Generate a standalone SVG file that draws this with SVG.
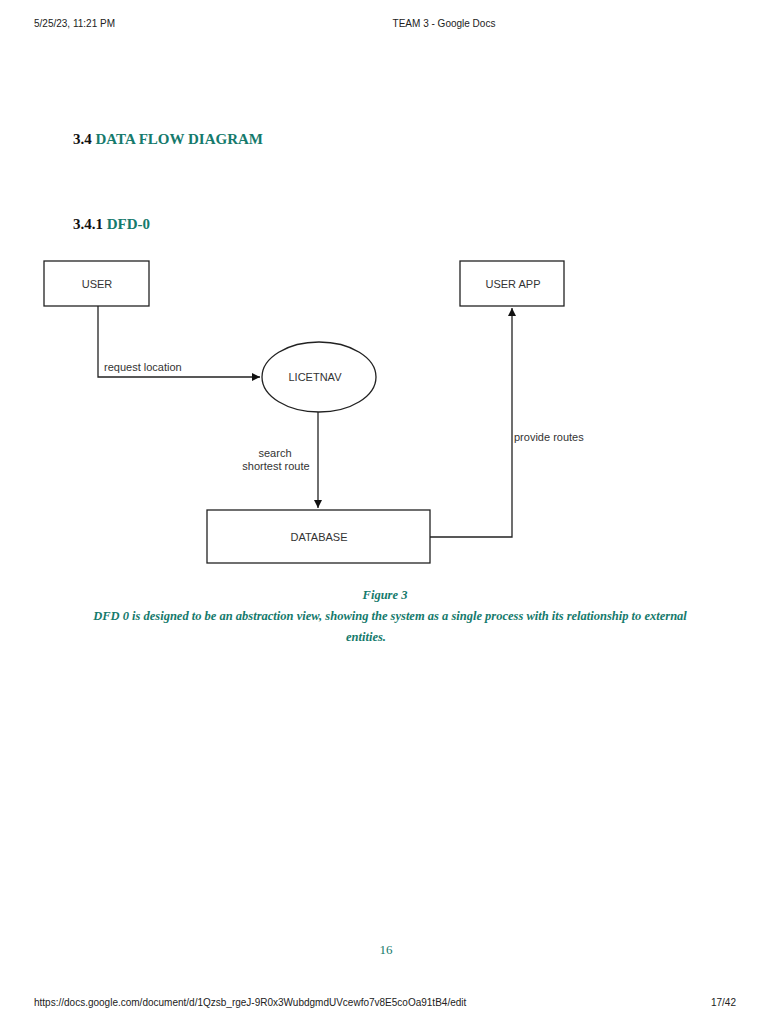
<svg xmlns="http://www.w3.org/2000/svg" width="768" height="1024" viewBox="0 0 768 1024">
<style>
.hdr{font-family:"Liberation Sans",Arial,sans-serif;font-size:10px;fill:#222}
.h{font-family:"Liberation Serif","Times New Roman",serif;font-size:15px;font-weight:bold}
.teal{fill:#157a6c}
.cap{font-family:"Liberation Serif","Times New Roman",serif;font-size:12.5px;font-weight:bold;font-style:italic;fill:#157a6c}
.box{fill:#fff;stroke:#222;stroke-width:1.3}
.lbl{font-family:"Liberation Sans",Arial,sans-serif;font-size:11px;fill:#333}
.edge{fill:none;stroke:#222;stroke-width:1.3}
</style>
<defs>
<marker id="arr" markerWidth="10" markerHeight="10" refX="8" refY="5" orient="auto" markerUnits="userSpaceOnUse">
<path d="M0,1 L8,5 L0,9 Z" fill="#111"/>
</marker>
</defs>
<rect width="768" height="1024" fill="#fff"/>
<text class="hdr" x="34" y="27">5/25/23, 11:21 PM</text>
<text class="hdr" x="444" y="27" text-anchor="middle">TEAM 3 - Google Docs</text>
<text class="h" x="73" y="144"><tspan fill="#111">3.4 </tspan><tspan class="teal">DATA FLOW DIAGRAM</tspan></text>
<text class="h" x="73" y="229"><tspan fill="#111">3.4.1 </tspan><tspan class="teal">DFD-0</tspan></text>
<g id="connectors">
<path class="edge" d="M98,306 V377 H260" marker-end="url(#arr)"/>
<text class="lbl" x="104" y="371">request location</text>
<path class="edge" d="M318,412 V508" marker-end="url(#arr)"/>
<text class="lbl" x="275" y="457" text-anchor="middle">search</text>
<text class="lbl" x="276" y="470" text-anchor="middle">shortest route</text>
<path class="edge" d="M430,537 H512 V308" marker-end="url(#arr)"/>
<text class="lbl" x="514" y="441">provide routes</text>
</g>
<g id="user">
<rect class="box" x="44" y="261" width="105" height="45"/>
<text class="lbl" x="97" y="288" text-anchor="middle">USER</text>
</g>
<g id="userapp">
<rect class="box" x="460" y="261" width="104" height="45"/>
<text class="lbl" x="513" y="288" text-anchor="middle">USER APP</text>
</g>
<g id="licetnav">
<ellipse class="box" cx="319" cy="377" rx="57" ry="35"/>
<text class="lbl" x="315" y="381" text-anchor="middle">LICETNAV</text>
</g>
<g id="database">
<rect class="box" x="207" y="510" width="223" height="53"/>
<text class="lbl" x="319" y="541" text-anchor="middle">DATABASE</text>
</g>
<text class="cap" x="385" y="599" text-anchor="middle">Figure 3</text>
<text class="cap" x="390" y="620" text-anchor="middle">DFD 0 is designed to be an abstraction view, showing the system as a single process with its relationship to external</text>
<text class="cap" x="366" y="641" text-anchor="middle">entities.</text>
<text x="386" y="954" text-anchor="middle" font-family="Liberation Serif,serif" font-size="13" fill="#157a6c">16</text>
<text class="hdr" x="34" y="1006">https://docs.google.com/document/d/1Qzsb_rgeJ-9R0x3WubdgmdUVcewfo7v8E5coOa91tB4/edit</text>
<text class="hdr" x="736" y="1006" text-anchor="end">17/42</text>
</svg>
